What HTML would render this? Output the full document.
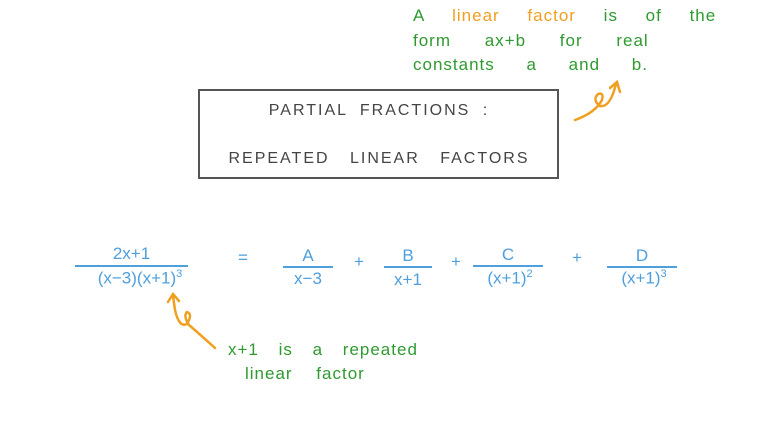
<!DOCTYPE html>
<html><head><style>
body{margin:0;width:760px;height:427px;background:#fff;position:relative;overflow:hidden;font-family:"Liberation Sans",sans-serif}
.t{position:absolute;white-space:nowrap}
.g{color:#2e9a30;font-size:17px;letter-spacing:1px}
.o{color:#f0a020}
.b{color:#4f9fdc;font-size:17px;text-align:center}
.bar{position:absolute;height:2px;background:#4f9fdc}
.box{position:absolute;left:198px;top:89px;width:357px;height:86px;border:2.5px solid #555}
.h{color:#444;font-size:16px;letter-spacing:2px;left:198px;width:362px;text-align:center}
</style></head><body>
<div class="t g" style="left:413px;top:6px;word-spacing:22px">A <span class="o">linear factor</span> is of the</div>
<div class="t g" style="left:413px;top:31px;word-spacing:28px">form ax+b for real</div>
<div class="t g" style="left:413px;top:55px;word-spacing:26px">constants a and b.</div>
<svg class="t" style="left:570px;top:78px" width="60" height="50"><path d="M5 42 Q25 35 32 22 Q34 14 28 16 Q22 22 30 28 Q40 30 46 6 M40 10 L47 4 L50 14" fill="none" stroke="#f0a020" stroke-width="2.5" stroke-linecap="round"/></svg>
<div class="box"></div>
<div class="t h" style="top:102px;word-spacing:6px">PARTIAL FRACTIONS :</div>
<div class="t h" style="top:150px;word-spacing:14px">REPEATED LINEAR FACTORS</div>

<div class="t b" style="left:75px;width:113px;top:244px">2x+1</div>
<div class="bar" style="left:75px;width:113px;top:265px"></div>
<div class="t b" style="left:68px;width:144px;top:268px">(x−3)(x+1)<sup style="font-size:11px">3</sup></div>
<div class="t b" style="left:238px;top:248px">=</div>
<div class="t b" style="left:283px;width:50px;top:246px">A</div>
<div class="bar" style="left:283px;width:50px;top:266px"></div>
<div class="t b" style="left:283px;width:50px;top:269px">x−3</div>
<div class="t b" style="left:354px;top:252px">+</div>
<div class="t b" style="left:384px;width:48px;top:246px">B</div>
<div class="bar" style="left:384px;width:48px;top:266px"></div>
<div class="t b" style="left:384px;width:48px;top:270px">x+1</div>
<div class="t b" style="left:451px;top:252px">+</div>
<div class="t b" style="left:473px;width:70px;top:245px">C</div>
<div class="bar" style="left:473px;width:70px;top:265px"></div>
<div class="t b" style="left:470px;width:80px;top:268px">(x+1)<sup style="font-size:11px">2</sup></div>
<div class="t b" style="left:572px;top:248px">+</div>
<div class="t b" style="left:607px;width:70px;top:246px">D</div>
<div class="bar" style="left:607px;width:70px;top:266px"></div>
<div class="t b" style="left:604px;width:80px;top:268px">(x+1)<sup style="font-size:11px">3</sup></div>

<svg class="t" style="left:165px;top:290px" width="60" height="65"><path d="M50 58 Q30 40 24 35 Q18 26 22 22 Q28 24 22 34 Q14 38 10 20 L8 6 M3 12 L8 4 L14 11" fill="none" stroke="#f0a020" stroke-width="2.5" stroke-linecap="round"/></svg>
<div class="t g" style="left:228px;top:340px;word-spacing:14px">x+1 is a repeated</div>
<div class="t g" style="left:245px;top:364px;word-spacing:18px">linear factor</div>
</body></html>
